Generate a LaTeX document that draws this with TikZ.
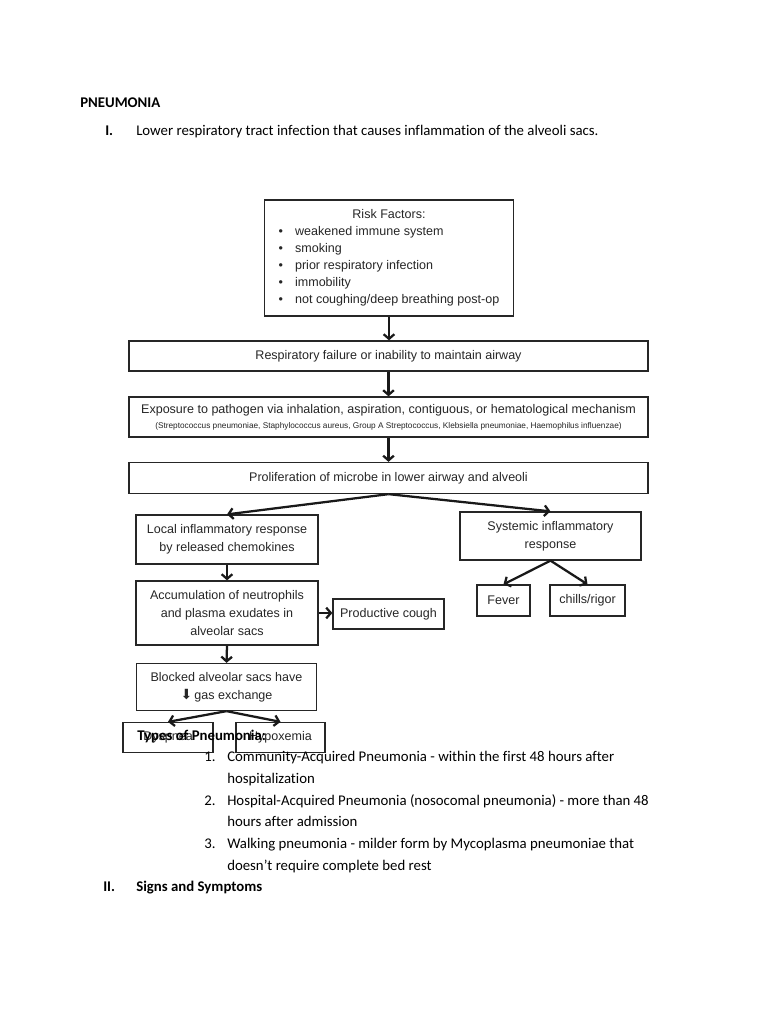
\documentclass[tikz,border=0pt]{standalone}
\usepackage{fontspec}
\setmainfont{Carlito}[Ligatures=NoCommon]
\newfontfamily\arialfont{Liberation Sans}[Ligatures=NoCommon]
\newfontfamily\symbfont{DejaVu Sans}
\usetikzlibrary{arrows.meta}

\begin{document}
\begin{tikzpicture}[x=0.75pt,y=0.75pt,yscale=-1,xscale=1,
  box/.style={draw=black!85, line width=0.95pt, fill=white, inner sep=0pt, align=center, text=black!85, font=\arialfont\fontsize{9.4}{13.2}\selectfont},
  arr/.style={line width=1.7pt, black!90, -{Straight Barb[length=3.5pt,width=8pt]}},
  body/.style={anchor=base west, inner sep=0pt, font=\fontsize{11.1}{13}\selectfont}]
%set diagram to the page, 768 x 1024
\useasboundingbox (0,0) rectangle (768,1024);

%Shape: Rectangle [risk factors]
\node [box, minimum width=186.75pt, minimum height=87pt] (risk) at (389,258)
  {\fontsize{9.4}{12.75}\selectfont
   \begin{tabular}{@{}l@{\hspace{9pt}}l@{}}
   \multicolumn{2}{c}{Risk Factors:}\\
   \textbullet & weakened immune system\\
   \textbullet & smoking\\
   \textbullet & prior respiratory infection\\
   \textbullet & immobility\\
   \textbullet & not coughing/deep breathing post-op
   \end{tabular}};
%Shape: Rectangle
\node [box, minimum width=389.25pt, minimum height=22.5pt] (resp) at (388.5,356) {Respiratory failure or inability to maintain airway};
%Shape: Rectangle
\node [box, minimum width=389.25pt, minimum height=30pt] (expo) at (388.5,417)
  {Exposure to pathogen via inhalation, aspiration, contiguous, or hematological mechanism\\[-2pt]
   \fontsize{6.2}{7}\selectfont (Streptococcus pneumoniae, Staphylococcus aureus, Group A Streptococcus, Klebsiella pneumoniae, Haemophilus influenzae)};
%Shape: Rectangle
\node [box, minimum width=389.25pt, minimum height=23.25pt] (prolif) at (388.5,478) {Proliferation of microbe in lower airway and alveoli};
%Shape: Rectangle
\node [box, minimum width=136.5pt, minimum height=36.75pt] (local) at (227,539.5) {Local inflammatory response\\by released chemokines};
%Shape: Rectangle
\node [box, minimum width=135.75pt, minimum height=36pt] (syst) at (550.5,536) {Systemic inflammatory\\response};
%Shape: Rectangle
\node [box, minimum width=136.5pt, minimum height=48pt] (accum) at (227,613) {Accumulation of neutrophils\\and plasma exudates in\\alveolar sacs};
%Shape: Rectangle
\node [box, minimum width=83.25pt, minimum height=22.5pt] (cough) at (388.5,614) {Productive cough};
%Shape: Rectangle
\node [box, minimum width=39.75pt, minimum height=23.25pt] (fever) at (503.5,600.5) {Fever};
%Shape: Rectangle
\node [box, minimum width=56.25pt, minimum height=23.25pt] (chills) at (587.5,600.5) {chills/rigor};
%Shape: Rectangle
\node [box, minimum width=135pt, minimum height=35.25pt] (blocked) at (226.5,687) {Blocked alveolar sacs have\\{\symbfont\fontsize{10.5}{10}\selectfont ⬇}\,gas exchange};
%Shape: Rectangle
\node [box, minimum width=67.5pt, minimum height=22.5pt] (dysp) at (168,737.5) {Dyspnea};
%Shape: Rectangle
\node [box, minimum width=66.75pt, minimum height=22.5pt] (hypox) at (280.5,737.5) {Hypoxemia};

%Straight Lines
\draw [arr] (risk.south) -- (risk.south |- resp.north);
\draw [arr] (resp.south) -- (expo.north);
\draw [arr] (expo.south) -- (prolif.north);
\draw [arr] (prolif.south) -- (local.north);
\draw [arr] (prolif.south) -- (syst.north);
\draw [arr] (local.south) -- (accum.north);
\draw [arr] (accum.east) -- (accum.east -| cough.west);
\draw [arr] (accum.south) -- (blocked.north);
\draw [arr] (syst.south) -- (fever.north);
\draw [arr] (syst.south) -- (chills.north);
\draw [arr] (blocked.south) -- (dysp.north);
\draw [arr] (blocked.south) -- (hypox.north);

% Text Node
\node [body, font=\fontsize{11.1}{13}\selectfont\bfseries] (title) at (80,108) {PNEUMONIA};
% Text Node
\node [body, font=\fontsize{11.1}{13}\selectfont\bfseries] (numI) at (105,135) {I.};
\node [body] (defn) at (136,135) {Lower respiratory tract infection that causes inflammation of the alveoli sacs.};
% Text Node
\node [body, font=\fontsize{11.1}{13}\selectfont\bfseries] (types) at (137,740) {Types of Pneumonia:};
% Text Node
\node [body] (numA) at (204,761) {1.};
\node [body] (typeA) at (227,761) {Community-Acquired Pneumonia - within the first 48 hours after};
\node [body] (typeAb) at (227,783) {hospitalization};
\node [body] (numB) at (204,805) {2.};
\node [body] (typeB) at (227,805) {Hospital-Acquired Pneumonia (nosocomal pneumonia) - more than 48};
\node [body] (typeBb) at (227,826) {hours after admission};
\node [body] (numC) at (204,848) {3.};
\node [body] (typeC) at (227,848) {Walking pneumonia - milder form by Mycoplasma pneumoniae that};
\node [body] (typeCb) at (227,870) {doesn’t require complete bed rest};
% Text Node
\node [body, font=\fontsize{11.1}{13}\selectfont\bfseries] (numII) at (103,891) {II.};
\node [body, font=\fontsize{11.1}{13}\selectfont\bfseries] (signs) at (136,891) {Signs and Symptoms};

\end{tikzpicture}
\end{document}
